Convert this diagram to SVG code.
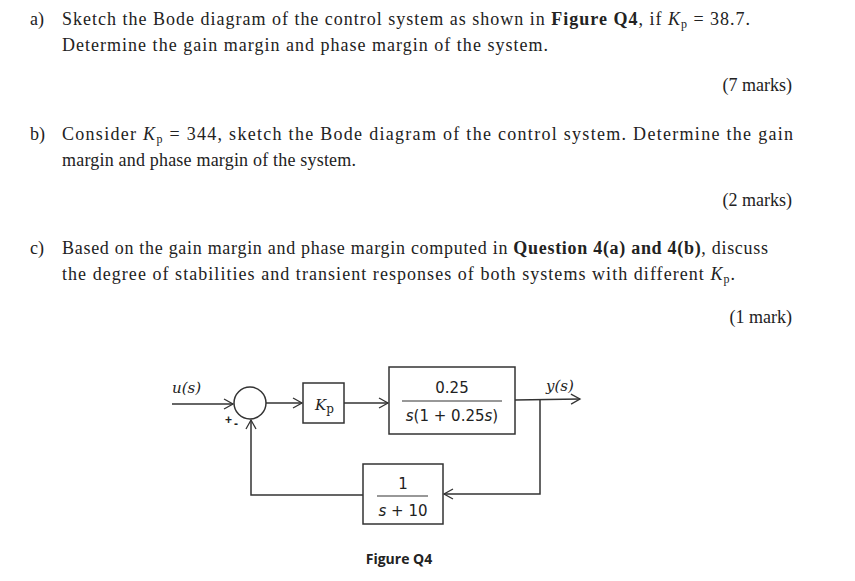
<svg xmlns="http://www.w3.org/2000/svg" width="855" height="581" viewBox="0 0 855 581">
<style>
.t{font-family:"Liberation Serif",serif;font-size:18px;fill:#222}
.m{font-family:"DejaVu Serif","Liberation Serif",serif;font-size:15px;fill:#222}
.b{fill:#fff;stroke:#333;stroke-width:1.5}
.l{fill:none;stroke:#333;stroke-width:1.5}
</style>
<defs><marker id="a" markerWidth="12" markerHeight="12" refX="10" refY="6" orient="auto" markerUnits="userSpaceOnUse"><path d="M1,1 L10,6 L1,11" fill="none" stroke="#333" stroke-width="1.3"/></marker></defs>
<rect width="855" height="581" fill="#fff"/>
<text class="t" x="30" y="25">a)</text>
<text class="t" x="62" y="25" textLength="688" lengthAdjust="spacing">Sketch the Bode diagram of the control system as shown in <tspan font-weight="bold">Figure Q4</tspan>, if <tspan font-style="italic">K</tspan><tspan font-size="12" dy="3">p</tspan><tspan dy="-3"> = 38.7.</tspan></text>
<text class="t" x="62" y="51" textLength="486" lengthAdjust="spacing">Determine the gain margin and phase margin of the system.</text>
<text class="t" x="792" y="91" text-anchor="end">(7 marks)</text>
<text class="t" x="30" y="140">b)</text>
<text class="t" x="62" y="140" textLength="731" lengthAdjust="spacing">Consider <tspan font-style="italic">K</tspan><tspan font-size="12" dy="3">p</tspan><tspan dy="-3"> = 344, sketch the Bode diagram of the control system. Determine the gain</tspan></text>
<text class="t" x="62" y="166" textLength="294" lengthAdjust="spacing">margin and phase margin of the system.</text>
<text class="t" x="792" y="206" text-anchor="end">(2 marks)</text>
<text class="t" x="30" y="254">c)</text>
<text class="t" x="62" y="254" textLength="706" lengthAdjust="spacing">Based on the gain margin and phase margin computed in <tspan font-weight="bold">Question 4(a) and 4(b)</tspan>, discuss</text>
<text class="t" x="62" y="280" textLength="673" lengthAdjust="spacing">the degree of stabilities and transient responses of both systems with different <tspan font-style="italic">K</tspan><tspan font-size="12" dy="3">p</tspan><tspan dy="-3">.</tspan></text>
<text class="t" x="792" y="323" text-anchor="end">(1 mark)</text>
<g id="connectors">
<path class="l" d="M172,404 L233,404" marker-end="url(#a)"/>
<path class="l" d="M266,403 L302,403" marker-end="url(#a)"/>
<path class="l" d="M344,403 L388,403" marker-end="url(#a)"/>
<path class="l" d="M515,400 L580,399" marker-end="url(#a)"/>
<path class="l" d="M540,400 L540,494 L444,494" marker-end="url(#a)"/>
<path class="l" d="M363,495 L251,495 L251,420" marker-end="url(#a)"/>
</g>
<g id="sum"><circle class="b" cx="250" cy="403" r="16"/>
<text x="225" y="424" font-family="Liberation Sans,sans-serif" font-size="12" font-weight="bold" fill="#222">+</text>
<text x="234" y="428" font-family="Liberation Sans,sans-serif" font-size="12" font-weight="bold" fill="#222">-</text></g>
<g id="input"><text class="m" x="172" y="393" font-style="italic">u(s)</text></g>
<g id="output"><text class="m" x="546" y="391" font-style="italic">y(s)</text></g>
<g id="kp"><rect class="b" x="303" y="383" width="41" height="40"/>
<text class="m" x="315" y="410" font-style="italic">K<tspan font-style="normal" font-size="12" dy="3">p</tspan></text></g>
<g id="plant"><rect class="b" x="389" y="367" width="126" height="67"/>
<text x="452" y="393" text-anchor="middle" font-family="DejaVu Sans,sans-serif" font-size="15" fill="#222">0.25</text>
<line x1="402" y1="401" x2="502" y2="401" stroke="#333" stroke-width="1.2"/>
<text x="452" y="421" text-anchor="middle" font-family="DejaVu Sans,sans-serif" font-size="15" fill="#222"><tspan font-style="italic">s</tspan>(1 + 0.25<tspan font-style="italic">s</tspan>)</text></g>
<g id="feedback"><rect class="b" x="363" y="464" width="80" height="60"/>
<text x="403" y="489" text-anchor="middle" font-family="DejaVu Sans,sans-serif" font-size="15" fill="#222">1</text>
<line x1="377" y1="496" x2="428" y2="496" stroke="#333" stroke-width="1.2"/>
<text x="403" y="516" text-anchor="middle" font-family="DejaVu Sans,sans-serif" font-size="15" fill="#222"><tspan font-style="italic">s</tspan> + 10</text></g>
<text x="399" y="564" text-anchor="middle" font-family="Open Sans,sans-serif" font-size="14" font-weight="bold" fill="#222">Figure Q4</text>
</svg>
